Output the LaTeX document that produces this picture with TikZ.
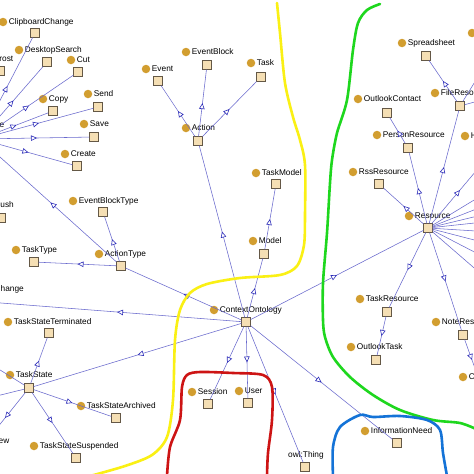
\documentclass[tikz,border=0pt]{standalone}
\usepackage{fontspec}
\setmainfont{Liberation Sans}
\usetikzlibrary{arrows.meta,decorations.markings}
\definecolor{dotgold}{RGB}{210,158,48}
\definecolor{sqfill}{RGB}{245,223,180}
\definecolor{sqdraw}{RGB}{100,88,70}
\definecolor{edgeblue}{RGB}{105,105,205}
\definecolor{tipblue}{RGB}{45,45,185}
\definecolor{hlyellow}{RGB}{250,240,20}
\definecolor{hlgreen}{RGB}{30,215,30}
\definecolor{hlred}{RGB}{205,20,20}
\definecolor{hlblue}{RGB}{20,115,215}

\begin{document}
\begin{tikzpicture}[
  x=1pt, y=-1pt,
  dot/.style={circle, fill=dotgold, minimum size=8.5pt, inner sep=0pt},
  lbl/.style={font=\fontsize{8.3}{9}\selectfont, inner sep=0pt, text=black},
  cls/.style={draw=sqdraw, fill=sqfill, line width=0.7pt, minimum size=8.5pt, inner sep=0pt},
  isa/.style={edgeblue, line width=0.55pt, postaction={decorate},
    decoration={markings, mark=at position 0.5 with
      {\arrow[tipblue, line width=0.6pt]{Triangle[length=6pt, width=5.5pt, fill=white]}}}},
  hand/.style={line width=2.6pt, line cap=round, line join=round}
]
  \useasboundingbox (0,0) rectangle (474,474);
  \clip (0,0) rectangle (474,474);
  \fill[white] (0,0) rectangle (474,474);

  % action types (left)
  \node[dot, label={[lbl, label distance=1.3pt]right:ClipboardChange}] (clipdot) at (3,22) {};
  \node[cls] (clip) at (35,33) {};
  \node[dot, label={[lbl, label distance=1.3pt]right:DesktopSearch}] (dsearchdot) at (19,50) {};
  \node[cls] (dsearch) at (47,62) {};
  \node[dot, label={[lbl, label distance=1.3pt]right:Cut}] (cutdot) at (71,60) {};
  \node[cls] (cut) at (78,72) {};
  \node[dot, label={[lbl, label distance=1.3pt]right:Copy}] (copydot) at (43,99) {};
  \node[cls] (copy) at (53,111) {};
  \node[dot, label={[lbl, label distance=1.3pt]right:Send}] (senddot) at (88,94) {};
  \node[cls] (send) at (98,107) {};
  \node[dot, label={[lbl, label distance=1.3pt]right:Save}] (savedot) at (84,124) {};
  \node[cls] (save) at (94,137) {};
  \node[dot, label={[lbl, label distance=1.3pt]right:Create}] (createdot) at (65,154) {};
  \node[cls] (create) at (77,166) {};
  \node[lbl, anchor=east] (acthublbl) at (4.5,125) {e};
  \node[cls] (acthub) at (-20,139) {};
  \node[lbl, anchor=east] (frostlbl) at (13.5,59) {rost};
  \node[cls] (frost) at (0,71) {};
  \node[lbl, anchor=east] (pushlbl) at (14,205) {ush};
  \node[cls] (push) at (1,218) {};
  \node[dot, label={[lbl, label distance=1.3pt]right:EventBlockType}] (ebtypedot) at (73,201) {};
  \node[cls] (ebtype) at (103,212) {};
  \node[dot, label={[lbl, label distance=1.3pt]right:TaskType}] (tasktypedot) at (16,250) {};
  \node[cls] (tasktype) at (34,262) {};
  \node[dot, label={[lbl, label distance=1.3pt]right:ActionType}] (acttypedot) at (99,254) {};
  \node[cls] (acttype) at (121,266) {};
  \node[lbl, anchor=east] (changelbl) at (24,289) {hange};
  \node[cls] (change) at (-12,302) {};

  % task states
  \node[dot, label={[lbl, label distance=1.3pt]right:TaskStateTerminated}] (tstermdot) at (8,322) {};
  \node[cls] (tsterm) at (49,333) {};
  \node[dot, label={[lbl, label distance=1.3pt]right:TaskState}] (tstatedot) at (10,375) {};
  \node[cls] (tstate) at (29,388) {};
  \node[dot, label={[lbl, label distance=1.3pt]right:TaskStateArchived}] (tsarchdot) at (81,406) {};
  \node[cls] (tsarch) at (116,418) {};
  \node[dot, label={[lbl, label distance=1.3pt]right:TaskStateSuspended}] (tssuspdot) at (34,446) {};
  \node[cls] (tssusp) at (76,458) {};
  \node[lbl, anchor=east] (tsnewlbl) at (9.5,441) {ew};
  \node[cls] (tsnew) at (-19,448) {};
  \coordinate (tsa) at (-40,345);
  \coordinate (tsb) at (-40,405);

  % middle
  \node[dot, label={[lbl, label distance=1.3pt]right:Event}] (eventdot) at (146,69) {};
  \node[cls] (event) at (158,81) {};
  \node[dot, label={[lbl, label distance=1.3pt]right:EventBlock}] (evblockdot) at (186,52) {};
  \node[cls] (evblock) at (207,65) {};
  \node[dot, label={[lbl, label distance=1.3pt]right:Task}] (taskdot) at (251,63) {};
  \node[cls] (task) at (261,77) {};
  \node[dot, label={[lbl, label distance=1.3pt]right:Action}] (actiondot) at (186,128) {};
  \node[cls] (action) at (198,141) {};
  \node[dot, label={[lbl, label distance=1.3pt]right:TaskModel}] (taskmodeldot) at (256,173) {};
  \node[cls] (taskmodel) at (276,184) {};
  \node[dot, label={[lbl, label distance=1.3pt]right:Model}] (modeldot) at (253,241) {};
  \node[cls] (model) at (264,254) {};
  \node[dot, label={[lbl, label distance=1.3pt]right:ContextOntology}] (codot) at (214,310) {};
  \node[cls] (co) at (246,322) {};
  \node[dot, label={[lbl, label distance=1.3pt]right:Session}] (sessiondot) at (192,392) {};
  \node[cls] (session) at (208,404) {};
  \node[dot, label={[lbl, label distance=1.3pt]right:User}] (userdot) at (239,391) {};
  \node[cls] (user) at (248,403) {};
  \node[lbl, anchor=west] (owlthinglbl) at (288,455) {owl:Thing};
  \node[cls] (owlthing) at (305,467) {};
  \node[dot, label={[lbl, label distance=1.3pt]right:InformationNeed}] (infoneeddot) at (365,431) {};
  \node[cls] (infoneed) at (397,443) {};

  % resources (right)
  \node[dot, label={[lbl, label distance=1.3pt]right:Spreadsheet}] (spreaddot) at (402,43) {};
  \node[cls] (spread) at (426,56) {};
  \node[dot] (topdot) at (472,33) {};
  \coordinate (topsq) at (497,46);
  \node[dot, label={[lbl, label distance=1.3pt]right:FileResource}] (fileresdot) at (435,93) {};
  \node[cls] (fileres) at (460,106) {};
  \coordinate (filefar) at (500,95);
  \node[dot, label={[lbl, label distance=1.3pt]right:OutlookContact}] (outcontactdot) at (358,99) {};
  \node[cls] (outcontact) at (387,113) {};
  \node[dot, label={[lbl, label distance=1.3pt]right:PersonResource}] (personresdot) at (377,135) {};
  \node[cls] (personres) at (408,148) {};
  \node[dot, label={[lbl, label distance=1.3pt]right:H}] (hresdot) at (465,136) {};
  \node[cls] (hres) at (492,152) {};
  \node[dot, label={[lbl, label distance=1.3pt]right:RssResource}] (rssresdot) at (353,172) {};
  \node[cls] (rssres) at (379,184) {};
  \node[dot, label={[lbl, label distance=1.3pt]right:Resource}] (resourcedot) at (409,216) {};
  \node[cls] (resource) at (428,228) {};
  \node[dot, label={[lbl, label distance=1.3pt]right:TaskResource}] (taskresdot) at (360,299) {};
  \node[cls] (taskres) at (387,312) {};
  \node[dot, label={[lbl, label distance=1.3pt]right:OutlookTask}] (outtaskdot) at (351,347) {};
  \node[cls] (outtask) at (376,360) {};
  \node[dot, label={[lbl, label distance=1.3pt]right:NoteResource}] (noteresdot) at (436,322) {};
  \node[cls] (noteres) at (463,335) {};
  \node[dot, label={[lbl, label distance=1.3pt]right:C}] (cresdot) at (463,377) {};
  \node[cls] (cres) at (481,385) {};

  % is-a links
  \foreach \c in {clip,dsearch,cut,copy,send,save,create,frost,push}
    \draw[isa] (acthub) -- (\c);
  \foreach \c in {acthub,ebtype,tasktype}
    \draw[isa] (acttype) -- (\c);
  \foreach \c in {acttype,action,model,change,tstate,session,user,owlthing,infoneed,resource}
    \draw[isa] (co) -- (\c);
  \foreach \c in {event,evblock,task}
    \draw[isa] (action) -- (\c);
  \draw[isa] (model) -- (taskmodel);
  \foreach \c in {tsterm,tsarch,tssusp,tsnew,tsa,tsb}
    \draw[isa] (tstate) -- (\c);
  \foreach \c in {rssres,personres,fileres,taskres,noteres,hres}
    \draw[isa] (resource) -- (\c);
  \foreach \y [count=\i] in {160,184,201,216,235,257,286,325} {
    \coordinate (resfar\i) at (540,\y);
    \draw[isa] (resource) -- (resfar\i);
  }
  \foreach \c in {spread,topsq,filefar}
    \draw[isa] (fileres) -- (\c);
  \draw[isa] (personres) -- (outcontact);
  \draw[isa] (taskres) -- (outtask);
  \draw[isa] (noteres) -- (cres);

  % hand-drawn groupings
  \draw[hand, hlyellow] plot[smooth] coordinates {(277,3) (280,33) (285,83) (293,117) (300,140)
    (305,165) (305,215) (304,245) (297,266) (280,275) (240,278) (207,284) (190,293) (180,310)
    (175,340) (173,400) (167,437) (152,455) (125,466) (90,476)};
  \draw[hand, hlgreen] plot[smooth] coordinates {(380,4) (367,10) (358,23) (353,50) (347,100)
    (337,133) (332,160) (330,183) (327,233) (323,283) (323,320) (325,337) (333,357) (350,377)
    (373,395) (400,410) (433,420) (460,423) (476,429)};
  \draw[hand, hlred] plot[smooth] coordinates {(167,476) (170,447) (180,420) (182,387) (187,375)
    (200,372) (233,373) (263,375) (272,387) (272,420) (268,453) (267,476)};
  \draw[hand, hlblue] plot[smooth] coordinates {(333,476) (333,447) (340,427) (360,415) (373,417)
    (400,416) (427,420) (440,430) (443,453) (447,476)};
\end{tikzpicture}
\end{document}
